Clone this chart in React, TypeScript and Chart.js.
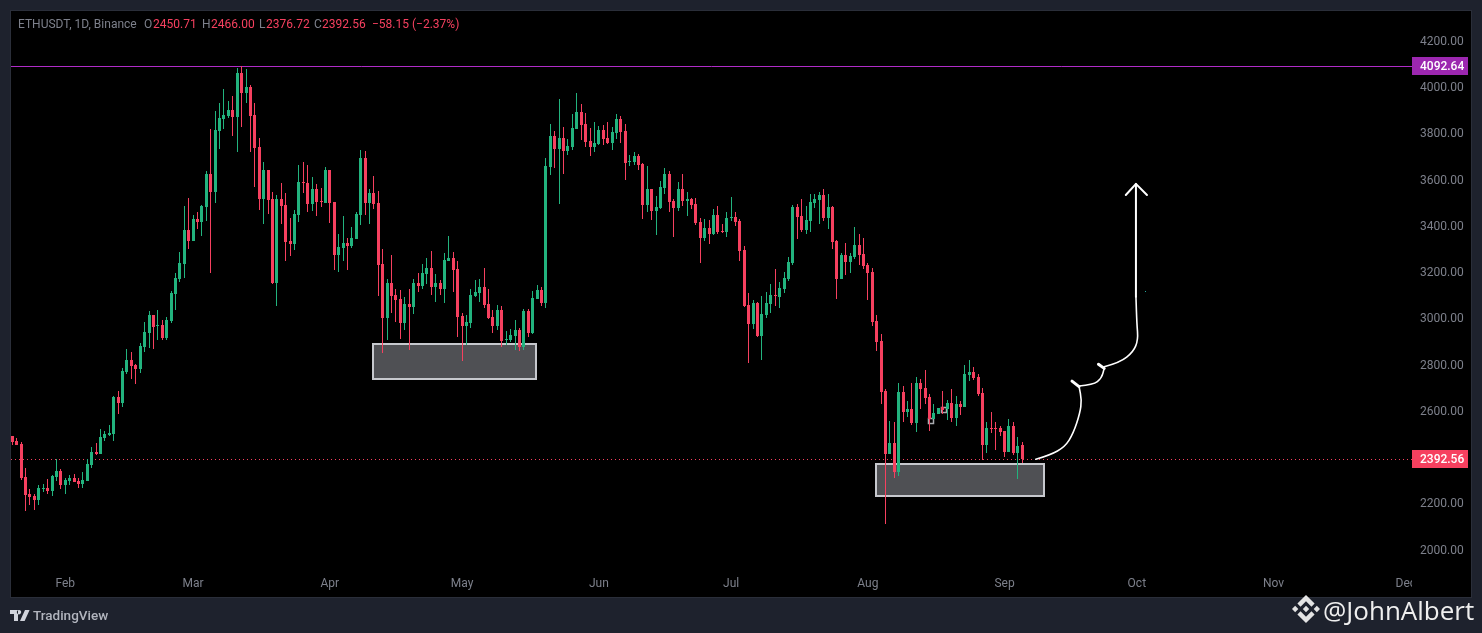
import React, { useEffect, useRef } from "react";
import { Chart, registerables } from "chart.js";

Chart.register(...registerables);

const opens = [
  2491,2470,2457,2314,2240,2232,2215,2262,2266,2253,
  2314,2340,2279,2297,2310,2297,2284,2297,2366,2422,
  2414,2483,2496,2500,2660,2634,2768,2820,2799,2781,
  2876,2937,3015,2967,2972,2914,2989,3106,3171,3235,
  3383,3335,3430,3417,3482,3625,3547,3811,3863,3876,
  3902,3871,4062,3975,4001,3880,3742,3517,3642,3517,
  3153,3517,3491,3335,3322,3447,3590,3586,3495,3560,
  3508,3499,3642,3504,3274,3305,3326,3313,3344,3447,
  3694,3499,3542,3499,3235,3002,3153,3101,3084,2980,
  3062,3049,3153,3140,3192,3218,3136,3153,3127,3248,
  3261,3214,3010,2967,2980,3097,3110,3136,3062,3006,
  2967,3036,2906,2906,2924,2950,2876,3032,2937,3084,
  3123,3066,3655,3789,3733,3780,3724,3741,3819,3893,
  3841,3767,3741,3754,3815,3780,3759,3802,3862,3811,
  3677,3677,3702,3668,3491,3560,3465,3477,3564,3625,
  3508,3477,3560,3508,3516,3495,3417,3348,3391,3365,
  3447,3378,3374,3434,3439,3421,3296,3058,2976,3067,
  2924,3015,3062,3101,3093,3127,3170,3240,3482,3443,
  3382,3421,3499,3512,3534,3434,3482,3335,3170,3274,
  3244,3266,3318,3279,3231,3201,2989,2903,2686,2414,
  2461,2336,2682,2595,2608,2548,2721,2699,2660,2565,
  2587,2617,2608,2634,2569,2630,2617,2755,2768,2747,
  2678,2453,2526,2526,2526,2513,2422,2535,2418,2450.71,
];
const highs = [
  2491,2483,2465,2353,2262,2240,2279,2284,2305,2323,
  2390,2349,2310,2323,2327,2310,2336,2392,2444,2461,
  2522,2513,2539,2664,2686,2786,2868,2855,2803,2894,
  2985,3032,3015,3037,2993,3006,3119,3195,3287,3486,
  3521,3447,3460,3491,3638,3820,3897,3932,3993,3941,
  3962,4083,4092.64,4079,4010,3932,3781,3677,3642,3547,
  3534,3586,3543,3435,3469,3664,3677,3664,3612,3582,
  3564,3655,3642,3504,3365,3443,3348,3396,3460,3729,
  3724,3560,3616,3551,3300,3170,3274,3127,3123,3093,
  3127,3170,3196,3235,3261,3292,3192,3166,3283,3356,
  3287,3248,3023,3015,3127,3166,3170,3218,3127,3036,
  3058,3054,2945,2954,2993,2958,3041,3041,3118,3144,
  3136,3694,3841,3811,3949,3828,3776,3884,3975,3927,
  3889,3824,3850,3832,3837,3850,3828,3884,3875,3841,
  3707,3720,3711,3672,3659,3560,3529,3594,3651,3638,
  3516,3590,3625,3547,3521,3521,3434,3430,3426,3473,
  3486,3408,3460,3525,3460,3430,3313,3110,3080,3071,
  3097,3114,3149,3214,3157,3201,3266,3491,3495,3517,
  3486,3538,3538,3547,3560,3538,3486,3339,3283,3326,
  3283,3395,3365,3348,3238,3218,3015,2933,2695,2556,
  2552,2721,2708,2643,2721,2747,2738,2777,2673,2630,
  2613,2686,2647,2695,2665,2643,2799,2820,2790,2760,
  2699,2552,2595,2552,2535,2513,2565,2552,2487,2466,
];
const lows = [
  2452,2452,2301,2167,2193,2171,2193,2249,2240,2232,
  2297,2262,2240,2279,2292,2266,2266,2297,2353,2409,
  2414,2470,2491,2470,2587,2617,2760,2738,2716,2764,
  2855,2872,2868,2907,2907,2907,2980,3037,3158,3175,
  3300,3335,3387,3357,3421,3197,3499,3733,3819,3867,
  3789,3720,3828,3932,3720,3569,3469,3409,3452,3149,
  3054,3409,3248,3270,3296,3417,3543,3460,3465,3443,
  3482,3499,3413,3210,3201,3248,3210,3305,3344,3404,
  3447,3408,3473,3097,2850,2907,3023,2984,2911,2950,
  2863,3019,3114,3127,3149,3101,3071,3101,3067,3248,
  3114,2920,2816,2885,2958,3093,3071,3045,2997,2937,
  2950,2876,2885,2898,2863,2859,2863,2920,2932,3084,
  3054,3045,3620,3650,3495,3625,3707,3728,3819,3772,
  3741,3702,3720,3750,3750,3754,3728,3776,3759,3599,
  3659,3664,3642,3430,3460,3426,3361,3473,3538,3460,
  3352,3465,3486,3443,3473,3404,3240,3335,3322,3361,
  3365,3368,3352,3421,3400,3248,3049,2807,2954,2920,
  2820,3002,3023,3054,3045,3110,3162,3231,3343,3374,
  3365,3374,3478,3408,3421,3387,3300,3084,3170,3188,
  3196,3257,3231,3214,3080,2967,2859,2630,2111,2414,
  2310,2319,2552,2574,2539,2509,2608,2630,2513,2565,
  2587,2587,2561,2552,2535,2582,2617,2730,2734,2665,
  2388,2418,2505,2431,2492,2401,2422,2409,2306,2376.72,
];
const closes = [
  2465,2452,2310,2236,2228,2215,2266,2266,2253,2318,
  2340,2279,2301,2310,2292,2284,2301,2370,2422,2414,
  2487,2500,2504,2660,2634,2773,2820,2794,2781,2881,
  2941,3015,2963,2972,2914,2993,3110,3175,3240,3383,
  3335,3430,3417,3486,3625,3547,3815,3867,3880,3902,
  3871,4062,3975,4001,3876,3737,3517,3642,3512,3153,
  3517,3486,3331,3322,3452,3590,3586,3495,3560,3504,
  3504,3642,3499,3274,3309,3326,3313,3348,3452,3694,
  3499,3542,3495,3231,3002,3153,3097,3080,2980,3062,
  3049,3153,3140,3196,3218,3136,3153,3127,3252,3261,
  3209,3006,2967,2984,3101,3114,3136,3058,3002,2967,
  3036,2902,2911,2928,2950,2876,3032,2937,3088,3123,
  3066,3659,3789,3733,3780,3724,3746,3824,3893,3837,
  3763,3741,3759,3815,3776,3759,3806,3862,3806,3672,
  3681,3702,3664,3491,3560,3465,3482,3568,3625,3503,
  3477,3560,3508,3516,3491,3413,3348,3391,3365,3447,
  3374,3374,3434,3439,3417,3292,3054,2976,3067,2924,
  3019,3067,3101,3097,3132,3175,3244,3482,3439,3382,
  3426,3504,3517,3534,3434,3482,3330,3170,3274,3244,
  3270,3318,3274,3227,3196,2985,2898,2682,2414,2461,
  2336,2682,2595,2608,2548,2721,2695,2656,2565,2591,
  2613,2604,2634,2569,2630,2617,2760,2768,2742,2673,
  2453,2526,2522,2522,2509,2422,2535,2418,2448,2392.56,
];

const firstDay = 19; // 20 January, counted from 1 January
const monthDays = [31, 60, 91, 121, 152, 182, 213, 244, 274, 305, 335];
const monthLabels = ["Feb", "Mar", "Apr", "May", "Jun", "Jul", "Aug", "Sep", "Oct", "Nov", "Dec"];
const priceTicks = [2000, 2200, 2400, 2600, 2800, 3000, 3200, 3400, 3600, 3800, 4000, 4200];

const highLevel = 4092.64;
const lastPrice = 2392.56;

// [day from, day to, price top, price bottom]
const zones = [
  [100.8, 137.7, 2889, 2738],
  [214.8, 253, 2370, 2232],
];
// small hollow markers [day, price]
const markers = [
  [227.3, 2555],
  [230.2, 2603],
];
// hand-drawn path, [day, price]
const stroke1 = [[251.1,2391],[254.3,2409],[257.7,2445],[259.6,2503],[261.1,2590],[261.5,2647],[260.9,2705]];
const stroke2 = [[260.9,2708],[264.1,2712],[266,2741],[266.6,2784]];
const stroke3 = [[266.6,2791],[270.2,2809],[273.2,2856],[274.3,2907],[274,2979],[273.8,3094]];
const shaft = [[273.8,3094],[273.8,3582]];
const head = [[271.5,3534],[273.8,3582],[276.3,3534]];
const blobs = [
  [[260.9,2705],[259.3,2729]],
  [[266.6,2784],[265.3,2802]],
];
const dot = [275.9, 3119];

const UP = "#22b37e";
const DOWN = "#f6405f";
const GREY = "#7d808b";
const FONT = "Roboto, sans-serif";

const days = opens.map((_, i) => firstDay + i);
const isUp = (i: number) => closes[i] >= opens[i];

const drawing = {
  id: "drawing",
  beforeDraw(chart: any) {
    const { ctx } = chart;
    ctx.save();
    ctx.fillStyle = "#000000";
    ctx.fillRect(10, 10, 1462, 587);
    ctx.strokeStyle = "#2a2e39";
    ctx.lineWidth = 1;
    ctx.strokeRect(10.5, 10.5, 1461, 587);
    ctx.restore();
  },
  beforeDatasetsDraw(chart: any) {
    const { ctx, chartArea, scales } = chart;
    const { x, y } = scales;

    // snap the library's bar geometry to whole pixels
    chart.getSortedVisibleDatasetMetas().forEach((meta: any) => {
      meta.data.forEach((el: any) => {
        el.x = Math.floor(el.x) + 0.5;
        const top = Math.round(el.y);
        let bottom = Math.round(el.base);
        if (bottom <= top) bottom = top + 1;
        el.y = top;
        el.base = bottom;
      });
    });

    ctx.save();
    ctx.beginPath();
    ctx.rect(chartArea.left, chartArea.top, chartArea.right - chartArea.left, chartArea.bottom - chartArea.top);
    ctx.clip();

    zones.forEach(([d0, d1, p0, p1]) => {
      const l = Math.round(x.getPixelForValue(d0));
      const r = Math.round(x.getPixelForValue(d1));
      const t = Math.round(y.getPixelForValue(p0));
      const b = Math.round(y.getPixelForValue(p1));
      ctx.fillStyle = "#4f5054";
      ctx.fillRect(l, t, r - l, b - t);
      ctx.strokeStyle = "#c6c8cd";
      ctx.lineWidth = 2;
      ctx.strokeRect(l, t, r - l, b - t);
    });

    markers.forEach(([d, p]) => {
      const cx = Math.round(x.getPixelForValue(d));
      const cy = Math.round(y.getPixelForValue(p));
      ctx.strokeStyle = "#a9abb0";
      ctx.lineWidth = 1.5;
      ctx.strokeRect(cx - 2.5, cy - 2.5, 5, 5);
    });

    const hy = Math.round(y.getPixelForValue(highLevel)) + 0.5;
    ctx.strokeStyle = "#b02cc8";
    ctx.lineWidth = 1;
    ctx.beginPath();
    ctx.moveTo(chartArea.left, hy);
    ctx.lineTo(chartArea.right, hy);
    ctx.stroke();

    const ly = Math.round(y.getPixelForValue(lastPrice)) + 0.5;
    ctx.strokeStyle = DOWN;
    ctx.setLineDash([1, 3]);
    ctx.beginPath();
    ctx.moveTo(chartArea.left, ly);
    ctx.lineTo(chartArea.right, ly);
    ctx.stroke();
    ctx.setLineDash([]);
    ctx.restore();
  },
  afterDatasetsDraw(chart: any) {
    const { ctx, scales } = chart;
    const { x, y } = scales;
    const toPx = (pts: number[][]) => pts.map(([d, p]) => [x.getPixelForValue(d), y.getPixelForValue(p)]);
    const smooth = (pts: number[][], width: number) => {
      const q = toPx(pts);
      ctx.lineWidth = width;
      ctx.beginPath();
      ctx.moveTo(q[0][0], q[0][1]);
      for (let i = 1; i < q.length - 1; i++) {
        const mx = (q[i][0] + q[i + 1][0]) / 2;
        const my = (q[i][1] + q[i + 1][1]) / 2;
        ctx.quadraticCurveTo(q[i][0], q[i][1], mx, my);
      }
      const e = q[q.length - 1];
      ctx.lineTo(e[0], e[1]);
      ctx.stroke();
    };
    const straight = (pts: number[][], width: number) => {
      const q = toPx(pts);
      ctx.lineWidth = width;
      ctx.beginPath();
      q.forEach((p, i) => (i ? ctx.lineTo(p[0], p[1]) : ctx.moveTo(p[0], p[1])));
      ctx.stroke();
    };
    ctx.save();
    ctx.strokeStyle = "#ffffff";
    ctx.lineCap = "round";
    ctx.lineJoin = "round";
    smooth(stroke1, 1.6);
    smooth(stroke2, 1.6);
    smooth(stroke3, 1.6);
    straight(shaft, 2);
    straight(head, 2);
    blobs.forEach((b) => straight(b, 3));
    ctx.fillStyle = "#26a69a";
    ctx.fillRect(Math.round(x.getPixelForValue(dot[0])), Math.round(y.getPixelForValue(dot[1])), 1, 1);
    ctx.restore();
  },
  afterDraw(chart: any) {
    const { ctx, chartArea, scales } = chart;
    const { y } = scales;
    ctx.save();
    // month labels stop where the price scale begins
    ctx.fillStyle = "#000000";
    ctx.fillRect(chartArea.right, chartArea.bottom + 1, 59, 26);
    const badge = (value: number, colour: string) => {
      const cy = Math.round(y.getPixelForValue(value));
      ctx.fillStyle = colour;
      ctx.fillRect(chartArea.right, cy - 9, 56, 18);
      ctx.fillStyle = "#ffffff";
      ctx.font = `500 12px ${FONT}`;
      ctx.textAlign = "left";
      ctx.textBaseline = "middle";
      ctx.fillText(value.toFixed(2), chartArea.right + 8, cy + 1);
    };
    badge(highLevel, "#9c27b0");
    badge(lastPrice, DOWN);
    ctx.restore();
  },
};

const hdr = (left: number, text: string, color: string) => (
  <span key={left} style={{ position: "absolute", left, top: 17, fontSize: 12, lineHeight: "14px", color, whiteSpace: "pre" }}>
    {text}
  </span>
);

export default function App() {
  const ref = useRef<HTMLCanvasElement | null>(null);
  useEffect(() => {
    const chart = new Chart(ref.current as HTMLCanvasElement, {
      type: "bar",
      data: {
        datasets: [
          {
            label: "Range",
            data: days.map((d, i) => ({ x: d, y: [lows[i], highs[i]] })) as any,
            backgroundColor: days.map((_, i) => (isUp(i) ? UP : DOWN)),
            barThickness: 1,
            grouped: false,
            inflateAmount: 0,
            borderWidth: 0,
          } as any,
          {
            label: "ETHUSDT",
            data: days.map((d, i) => ({ x: d, y: [opens[i], closes[i]] })) as any,
            backgroundColor: days.map((_, i) => (isUp(i) ? UP : DOWN)),
            barThickness: 3,
            grouped: false,
            inflateAmount: 0,
            borderWidth: 0,
          } as any,
        ],
      },
      options: {
        responsive: false,
        animation: false,
        devicePixelRatio: 1,
        events: [],
        layout: { padding: { left: 11, top: 11, right: 10, bottom: 36 } },
        plugins: { legend: { display: false }, tooltip: { enabled: false }, title: { display: false } },
        scales: {
          x: {
            type: "linear",
            min: 18.7,
            max: 336.4,
            offset: false,
            grid: { display: false, drawTicks: false },
            border: { display: false },
            afterBuildTicks: (s: any) => {
              s.ticks = monthDays.map((v) => ({ value: v }));
            },
            afterFit: (s: any) => {
              s.height = 27;
              s.paddingLeft = 0;
              s.paddingRight = 0;
            },
            ticks: {
              autoSkip: false,
              maxRotation: 0,
              minRotation: 0,
              padding: 7,
              color: GREY,
              font: { family: FONT, size: 12 },
              callback: (v: any) => monthLabels[monthDays.indexOf(Number(v))] ?? "",
            },
          },
          y: {
            type: "linear",
            position: "right",
            min: 1912,
            max: 4329.8,
            grid: { display: false, drawTicks: false },
            border: { display: false },
            afterBuildTicks: (s: any) => {
              s.ticks = priceTicks.map((v) => ({ value: v }));
            },
            afterFit: (s: any) => {
              s.width = 60;
              s.paddingTop = 0;
              s.paddingBottom = 0;
            },
            ticks: {
              autoSkip: false,
              padding: 8,
              labelOffset: 1,
              color: GREY,
              font: { family: FONT, size: 12 },
              callback: (v: any) => Number(v).toFixed(2),
            },
          },
        },
      } as any,
      plugins: [drawing as any],
    });
    return () => chart.destroy();
  }, []);

  return (
    <div style={{ position: "fixed", left: 0, top: 0, width: 1482, height: 633, overflow: "hidden", background: "#1e222d", fontFamily: FONT }}>
      <canvas ref={ref} width={1482} height={633} style={{ display: "block" }} />
      {hdr(18, "ETHUSDT, 1D, Binance", GREY)}
      {hdr(144, "O", GREY)}
      {hdr(153, "2450.71", DOWN)}
      {hdr(202, "H", GREY)}
      {hdr(211, "2466.00", DOWN)}
      {hdr(259, "L", GREY)}
      {hdr(266, "2376.72", DOWN)}
      {hdr(314, "C", GREY)}
      {hdr(322, "2392.56", DOWN)}
      {hdr(372, "−58.15 (−2.37%)", DOWN)}
      <svg style={{ position: "absolute", left: 10, top: 610 }} width="20" height="11" viewBox="0 0 20 11">
        <path d="M0 0h8v11H4V4H0z M9 0a2.2 2.2 0 1 0 .01 0 M15 0h4.6L14.6 11H10z" fill="#d1d4dc" />
      </svg>
      <span style={{ position: "absolute", left: 33, top: 607, fontSize: 13.5, lineHeight: "16px", fontWeight: 500, color: "#b2b5be" }}>TradingView</span>
      <svg style={{ position: "absolute", left: 1292, top: 595 }} width="28" height="28" viewBox="0 0 126.61 126.61">
        <g fill="#e4e4e4">
          <path d="M38.73 53.2l24.59-24.58 24.6 24.6 14.3-14.31L63.32 0 24.43 38.9l14.3 14.3z" />
          <path d="M0 63.31l14.3-14.31 14.31 14.31L14.3 77.61z" />
          <path d="M38.73 73.41l24.59 24.59 24.6-24.6 14.31 14.29-38.9 38.91-38.91-38.88z" />
          <path d="M98 63.31l14.3-14.31 14.31 14.3-14.31 14.3z" />
          <path d="M77.83 63.3L63.32 48.78 52.59 59.51l-1.24 1.23-2.54 2.54 14.51 14.5 14.51-14.47z" />
        </g>
      </svg>
      <span style={{ position: "absolute", left: 1323, top: 595, fontSize: 26, lineHeight: "30px", fontFamily: "'Open Sans', sans-serif", color: "#efefef", whiteSpace: "pre" }}>@JohnAlbert</span>
    </div>
  );
}
